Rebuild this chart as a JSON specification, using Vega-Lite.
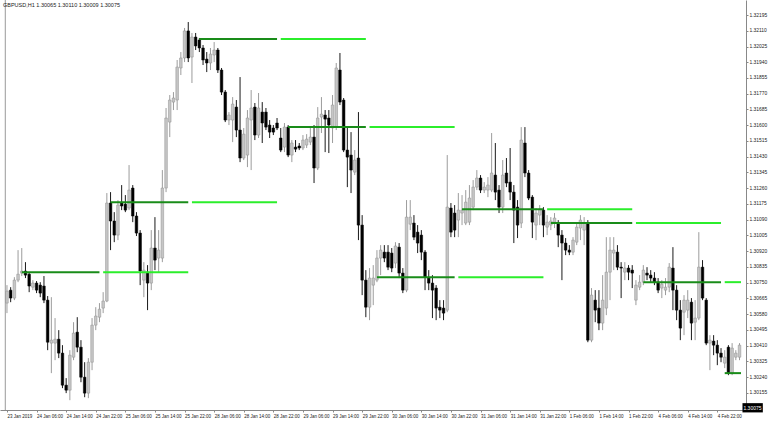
{
"$schema":"https://vega.github.io/schema/vega-lite/v6.json",
"width":746,"height":410,
"autosize":{"type":"none"},
"padding":{"left":0,"top":0,"right":22,"bottom":11},
"background":"white",
"config":{"view":{"stroke":null},"font":"Liberation Sans"},
"resolve":{"axis":{"x":"independent","y":"independent"}},
"title":{"text":"GBPUSD,H1  1.30065 1.30110 1.30009 1.30075","anchor":"start","frame":"group","offset":-9,"dx":3,"fontSize":5.5,"fontWeight":"normal","color":"#222","font":"Liberation Sans"},
"datasets":{
"candles":[
{"i":0,"o":1.30640,"h":1.30737,"l":1.30586,"c":1.30705},
{"i":1,"o":1.30710,"h":1.30726,"l":1.30645,"c":1.30667},
{"i":2,"o":1.30667,"h":1.30780,"l":1.30656,"c":1.30764},
{"i":3,"o":1.30764,"h":1.30926,"l":1.30753,"c":1.30796},
{"i":4,"o":1.30802,"h":1.30937,"l":1.30786,"c":1.30813},
{"i":5,"o":1.30813,"h":1.30861,"l":1.30775,"c":1.30791},
{"i":6,"o":1.30796,"h":1.30807,"l":1.30699,"c":1.30732},
{"i":7,"o":1.30726,"h":1.30764,"l":1.30710,"c":1.30748},
{"i":8,"o":1.30748,"h":1.30759,"l":1.30694,"c":1.30710},
{"i":9,"o":1.30737,"h":1.30753,"l":1.30672,"c":1.30694},
{"i":10,"o":1.30732,"h":1.30786,"l":1.30640,"c":1.30656},
{"i":11,"o":1.30656,"h":1.30678,"l":1.30386,"c":1.30429},
{"i":12,"o":1.30424,"h":1.30672,"l":1.30262,"c":1.30440},
{"i":13,"o":1.30424,"h":1.30559,"l":1.30332,"c":1.30445},
{"i":14,"o":1.30445,"h":1.30494,"l":1.30343,"c":1.30370},
{"i":15,"o":1.30370,"h":1.30413,"l":1.30181,"c":1.30197},
{"i":16,"o":1.30197,"h":1.30235,"l":1.30154,"c":1.30170},
{"i":17,"o":1.30170,"h":1.30386,"l":1.30116,"c":1.30359},
{"i":18,"o":1.30348,"h":1.30537,"l":1.30332,"c":1.30478},
{"i":19,"o":1.30483,"h":1.30564,"l":1.30375,"c":1.30402},
{"i":20,"o":1.30402,"h":1.30440,"l":1.30213,"c":1.30240},
{"i":21,"o":1.30240,"h":1.30321,"l":1.30132,"c":1.30154},
{"i":22,"o":1.30154,"h":1.30343,"l":1.30127,"c":1.30321},
{"i":23,"o":1.30321,"h":1.30559,"l":1.30278,"c":1.30521},
{"i":24,"o":1.30521,"h":1.30618,"l":1.30494,"c":1.30570},
{"i":25,"o":1.30564,"h":1.30640,"l":1.30537,"c":1.30607},
{"i":26,"o":1.30613,"h":1.30699,"l":1.30586,"c":1.30651},
{"i":27,"o":1.30651,"h":1.31234,"l":1.30645,"c":1.31180},
{"i":28,"o":1.31180,"h":1.31239,"l":1.30926,"c":1.31083},
{"i":29,"o":1.31083,"h":1.31131,"l":1.30969,"c":1.31007},
{"i":30,"o":1.31007,"h":1.31196,"l":1.30980,"c":1.31169},
{"i":31,"o":1.31180,"h":1.31277,"l":1.31142,"c":1.31164},
{"i":32,"o":1.31174,"h":1.31223,"l":1.31131,"c":1.31142},
{"i":33,"o":1.31153,"h":1.31385,"l":1.31142,"c":1.31250},
{"i":34,"o":1.31261,"h":1.31277,"l":1.31077,"c":1.31110},
{"i":35,"o":1.31110,"h":1.31131,"l":1.31002,"c":1.31018},
{"i":36,"o":1.31018,"h":1.31034,"l":1.30737,"c":1.30813},
{"i":37,"o":1.30764,"h":1.30861,"l":1.30672,"c":1.30818},
{"i":38,"o":1.30807,"h":1.30845,"l":1.30602,"c":1.30748},
{"i":39,"o":1.30748,"h":1.31034,"l":1.30710,"c":1.30937},
{"i":40,"o":1.30937,"h":1.31104,"l":1.30818,"c":1.30872},
{"i":41,"o":1.30883,"h":1.31034,"l":1.30807,"c":1.30926},
{"i":42,"o":1.30883,"h":1.31358,"l":1.30861,"c":1.31261},
{"i":43,"o":1.31261,"h":1.31693,"l":1.31239,"c":1.31639},
{"i":44,"o":1.31617,"h":1.31763,"l":1.31536,"c":1.31736},
{"i":45,"o":1.31725,"h":1.31779,"l":1.31682,"c":1.31747},
{"i":46,"o":1.31736,"h":1.31952,"l":1.31682,"c":1.31914},
{"i":47,"o":1.31909,"h":1.31995,"l":1.31871,"c":1.31963},
{"i":48,"o":1.31963,"h":1.32125,"l":1.31941,"c":1.32109},
{"i":49,"o":1.32109,"h":1.32157,"l":1.31941,"c":1.31963},
{"i":50,"o":1.31968,"h":1.32098,"l":1.31828,"c":1.32076},
{"i":51,"o":1.32076,"h":1.32098,"l":1.32006,"c":1.32028},
{"i":52,"o":1.32060,"h":1.32071,"l":1.31995,"c":1.32017},
{"i":53,"o":1.32017,"h":1.32033,"l":1.31925,"c":1.31952},
{"i":54,"o":1.31957,"h":1.31995,"l":1.31887,"c":1.31936},
{"i":55,"o":1.31936,"h":1.32017,"l":1.31898,"c":1.31984},
{"i":56,"o":1.31979,"h":1.32049,"l":1.31941,"c":1.32006},
{"i":57,"o":1.32006,"h":1.32017,"l":1.31882,"c":1.31898},
{"i":58,"o":1.31898,"h":1.31909,"l":1.31763,"c":1.31779},
{"i":59,"o":1.31779,"h":1.31790,"l":1.31617,"c":1.31628},
{"i":60,"o":1.31628,"h":1.31671,"l":1.31601,"c":1.31655},
{"i":61,"o":1.31628,"h":1.31752,"l":1.31509,"c":1.31714},
{"i":62,"o":1.31698,"h":1.31736,"l":1.31536,"c":1.31574},
{"i":63,"o":1.31574,"h":1.31860,"l":1.31401,"c":1.31423},
{"i":64,"o":1.31423,"h":1.31585,"l":1.31412,"c":1.31552},
{"i":65,"o":1.31439,"h":1.31682,"l":1.31374,"c":1.31639},
{"i":66,"o":1.31628,"h":1.31790,"l":1.31358,"c":1.31693},
{"i":67,"o":1.31698,"h":1.31720,"l":1.31520,"c":1.31547},
{"i":68,"o":1.31547,"h":1.31774,"l":1.31531,"c":1.31693},
{"i":69,"o":1.31671,"h":1.31725,"l":1.31504,"c":1.31612},
{"i":70,"o":1.31671,"h":1.31693,"l":1.31574,"c":1.31590},
{"i":71,"o":1.31601,"h":1.31628,"l":1.31531,"c":1.31563},
{"i":72,"o":1.31585,"h":1.31601,"l":1.31547,"c":1.31563},
{"i":73,"o":1.31612,"h":1.31639,"l":1.31574,"c":1.31585},
{"i":74,"o":1.31531,"h":1.31585,"l":1.31455,"c":1.31466},
{"i":75,"o":1.31482,"h":1.31612,"l":1.31455,"c":1.31590},
{"i":76,"o":1.31590,"h":1.31601,"l":1.31428,"c":1.31439},
{"i":77,"o":1.31439,"h":1.31520,"l":1.31401,"c":1.31504},
{"i":78,"o":1.31482,"h":1.31520,"l":1.31455,"c":1.31471},
{"i":79,"o":1.31488,"h":1.31504,"l":1.31466,"c":1.31477},
{"i":80,"o":1.31477,"h":1.31547,"l":1.31466,"c":1.31520},
{"i":81,"o":1.31493,"h":1.31552,"l":1.31477,"c":1.31525},
{"i":82,"o":1.31509,"h":1.31590,"l":1.31493,"c":1.31536},
{"i":83,"o":1.31536,"h":1.31601,"l":1.31288,"c":1.31369},
{"i":84,"o":1.31369,"h":1.31698,"l":1.31358,"c":1.31639},
{"i":85,"o":1.31644,"h":1.31752,"l":1.31558,"c":1.31660},
{"i":86,"o":1.31655,"h":1.31682,"l":1.31455,"c":1.31633},
{"i":87,"o":1.31639,"h":1.31682,"l":1.31450,"c":1.31601},
{"i":88,"o":1.31585,"h":1.31763,"l":1.31504,"c":1.31709},
{"i":89,"o":1.31590,"h":1.31936,"l":1.31574,"c":1.31909},
{"i":90,"o":1.31898,"h":1.31990,"l":1.31709,"c":1.31725},
{"i":91,"o":1.31736,"h":1.31747,"l":1.31455,"c":1.31466},
{"i":92,"o":1.31466,"h":1.31590,"l":1.31266,"c":1.31428},
{"i":93,"o":1.31439,"h":1.31563,"l":1.31234,"c":1.31358},
{"i":94,"o":1.31347,"h":1.31466,"l":1.31331,"c":1.31412},
{"i":95,"o":1.31423,"h":1.31671,"l":1.30980,"c":1.31061},
{"i":96,"o":1.31061,"h":1.31115,"l":1.30683,"c":1.30764},
{"i":97,"o":1.30764,"h":1.30818,"l":1.30564,"c":1.30618},
{"i":98,"o":1.30618,"h":1.30829,"l":1.30548,"c":1.30775},
{"i":99,"o":1.30737,"h":1.30845,"l":1.30629,"c":1.30775},
{"i":100,"o":1.30764,"h":1.30926,"l":1.30753,"c":1.30883},
{"i":101,"o":1.30883,"h":1.30953,"l":1.30791,"c":1.30926},
{"i":102,"o":1.30915,"h":1.30953,"l":1.30861,"c":1.30883},
{"i":103,"o":1.30915,"h":1.30953,"l":1.30818,"c":1.30834},
{"i":104,"o":1.30910,"h":1.30937,"l":1.30807,"c":1.30829},
{"i":105,"o":1.30856,"h":1.30969,"l":1.30829,"c":1.30948},
{"i":106,"o":1.30942,"h":1.30964,"l":1.30775,"c":1.30802},
{"i":107,"o":1.30802,"h":1.30829,"l":1.30694,"c":1.30710},
{"i":108,"o":1.30710,"h":1.31196,"l":1.30699,"c":1.31104},
{"i":109,"o":1.31066,"h":1.31196,"l":1.31034,"c":1.31104},
{"i":110,"o":1.31072,"h":1.31115,"l":1.30980,"c":1.30996},
{"i":111,"o":1.31023,"h":1.31061,"l":1.30910,"c":1.30964},
{"i":112,"o":1.31007,"h":1.31034,"l":1.30872,"c":1.30915},
{"i":113,"o":1.30915,"h":1.30926,"l":1.30710,"c":1.30780},
{"i":114,"o":1.30775,"h":1.30818,"l":1.30710,"c":1.30748},
{"i":115,"o":1.30748,"h":1.30791,"l":1.30559,"c":1.30710},
{"i":116,"o":1.30721,"h":1.30737,"l":1.30548,"c":1.30613},
{"i":117,"o":1.30618,"h":1.30656,"l":1.30559,"c":1.30602},
{"i":118,"o":1.30613,"h":1.30656,"l":1.30548,"c":1.30586},
{"i":119,"o":1.30602,"h":1.31439,"l":1.30591,"c":1.31158},
{"i":120,"o":1.31153,"h":1.31180,"l":1.30996,"c":1.31023},
{"i":121,"o":1.31126,"h":1.31169,"l":1.30996,"c":1.31034},
{"i":122,"o":1.31088,"h":1.31234,"l":1.30996,"c":1.31142},
{"i":123,"o":1.31126,"h":1.31223,"l":1.31061,"c":1.31142},
{"i":124,"o":1.31072,"h":1.31250,"l":1.31061,"c":1.31185},
{"i":125,"o":1.31077,"h":1.31277,"l":1.31061,"c":1.31207},
{"i":126,"o":1.31158,"h":1.31304,"l":1.31142,"c":1.31266},
{"i":127,"o":1.31266,"h":1.31358,"l":1.31250,"c":1.31315},
{"i":128,"o":1.31315,"h":1.31331,"l":1.31234,"c":1.31250},
{"i":129,"o":1.31250,"h":1.31293,"l":1.31234,"c":1.31266},
{"i":130,"o":1.31250,"h":1.31320,"l":1.31212,"c":1.31277},
{"i":131,"o":1.31250,"h":1.31558,"l":1.31239,"c":1.31342},
{"i":132,"o":1.31331,"h":1.31504,"l":1.31196,"c":1.31239},
{"i":133,"o":1.31250,"h":1.31277,"l":1.31126,"c":1.31158},
{"i":134,"o":1.31158,"h":1.31412,"l":1.31126,"c":1.31331},
{"i":135,"o":1.31342,"h":1.31423,"l":1.31266,"c":1.31288},
{"i":136,"o":1.31293,"h":1.31477,"l":1.31196,"c":1.31239},
{"i":137,"o":1.31239,"h":1.31277,"l":1.30964,"c":1.31142},
{"i":138,"o":1.31158,"h":1.31196,"l":1.30991,"c":1.31061},
{"i":139,"o":1.31072,"h":1.31590,"l":1.31045,"c":1.31520},
{"i":140,"o":1.31504,"h":1.31590,"l":1.31320,"c":1.31342},
{"i":141,"o":1.31342,"h":1.31358,"l":1.31196,"c":1.31207},
{"i":142,"o":1.31212,"h":1.31223,"l":1.30991,"c":1.31077},
{"i":143,"o":1.31061,"h":1.31153,"l":1.30980,"c":1.31126},
{"i":144,"o":1.31115,"h":1.31169,"l":1.31061,"c":1.31147},
{"i":145,"o":1.31142,"h":1.31158,"l":1.30996,"c":1.31061},
{"i":146,"o":1.31050,"h":1.31115,"l":1.31007,"c":1.31077},
{"i":147,"o":1.31061,"h":1.31104,"l":1.31034,"c":1.31083},
{"i":148,"o":1.31077,"h":1.31126,"l":1.31045,"c":1.31099},
{"i":149,"o":1.31072,"h":1.31088,"l":1.30942,"c":1.31007},
{"i":150,"o":1.31007,"h":1.31034,"l":1.30764,"c":1.30964},
{"i":151,"o":1.30964,"h":1.30991,"l":1.30899,"c":1.30926},
{"i":152,"o":1.30926,"h":1.30953,"l":1.30899,"c":1.30915},
{"i":153,"o":1.30915,"h":1.30996,"l":1.30899,"c":1.30980},
{"i":154,"o":1.30969,"h":1.31077,"l":1.30953,"c":1.31050},
{"i":155,"o":1.31045,"h":1.31115,"l":1.30980,"c":1.31088},
{"i":156,"o":1.31034,"h":1.31104,"l":1.30953,"c":1.31072},
{"i":157,"o":1.31072,"h":1.31088,"l":1.30429,"c":1.30440},
{"i":158,"o":1.30440,"h":1.30721,"l":1.30429,"c":1.30683},
{"i":159,"o":1.30656,"h":1.30710,"l":1.30537,"c":1.30602},
{"i":160,"o":1.30613,"h":1.30710,"l":1.30494,"c":1.30532},
{"i":161,"o":1.30532,"h":1.30791,"l":1.30494,"c":1.30656},
{"i":162,"o":1.30613,"h":1.30996,"l":1.30575,"c":1.30807},
{"i":163,"o":1.30807,"h":1.30996,"l":1.30656,"c":1.30926},
{"i":164,"o":1.30910,"h":1.30996,"l":1.30818,"c":1.30926},
{"i":165,"o":1.30915,"h":1.30953,"l":1.30818,"c":1.30834},
{"i":166,"o":1.30834,"h":1.30861,"l":1.30667,"c":1.30829},
{"i":167,"o":1.30807,"h":1.30861,"l":1.30764,"c":1.30829},
{"i":168,"o":1.30829,"h":1.30845,"l":1.30764,"c":1.30807},
{"i":169,"o":1.30818,"h":1.30845,"l":1.30721,"c":1.30802},
{"i":170,"o":1.30656,"h":1.30764,"l":1.30629,"c":1.30737},
{"i":171,"o":1.30726,"h":1.30791,"l":1.30710,"c":1.30753},
{"i":172,"o":1.30753,"h":1.30845,"l":1.30737,"c":1.30818},
{"i":173,"o":1.30802,"h":1.30834,"l":1.30764,"c":1.30791},
{"i":174,"o":1.30791,"h":1.30818,"l":1.30753,"c":1.30775},
{"i":175,"o":1.30775,"h":1.30807,"l":1.30737,"c":1.30753},
{"i":176,"o":1.30753,"h":1.30775,"l":1.30694,"c":1.30710},
{"i":177,"o":1.30721,"h":1.30764,"l":1.30667,"c":1.30742},
{"i":178,"o":1.30710,"h":1.30775,"l":1.30683,"c":1.30726},
{"i":179,"o":1.30726,"h":1.30856,"l":1.30699,"c":1.30834},
{"i":180,"o":1.30829,"h":1.30942,"l":1.30602,"c":1.30710},
{"i":181,"o":1.30710,"h":1.30737,"l":1.30548,"c":1.30602},
{"i":182,"o":1.30602,"h":1.30656,"l":1.30440,"c":1.30505},
{"i":183,"o":1.30591,"h":1.30683,"l":1.30467,"c":1.30656},
{"i":184,"o":1.30602,"h":1.30710,"l":1.30559,"c":1.30656},
{"i":185,"o":1.30645,"h":1.30667,"l":1.30440,"c":1.30532},
{"i":186,"o":1.30537,"h":1.30656,"l":1.30440,"c":1.30559},
{"i":187,"o":1.30559,"h":1.31023,"l":1.30548,"c":1.30834},
{"i":188,"o":1.30834,"h":1.30872,"l":1.30656,"c":1.30667},
{"i":189,"o":1.30656,"h":1.30667,"l":1.30413,"c":1.30424},
{"i":190,"o":1.30424,"h":1.30467,"l":1.30278,"c":1.30440},
{"i":191,"o":1.30435,"h":1.30467,"l":1.30359,"c":1.30413},
{"i":192,"o":1.30413,"h":1.30440,"l":1.30305,"c":1.30370},
{"i":193,"o":1.30370,"h":1.30397,"l":1.30321,"c":1.30348},
{"i":194,"o":1.30316,"h":1.30386,"l":1.30289,"c":1.30348},
{"i":195,"o":1.30402,"h":1.30413,"l":1.30251,"c":1.30262},
{"i":196,"o":1.30262,"h":1.30424,"l":1.30251,"c":1.30397},
{"i":197,"o":1.30348,"h":1.30386,"l":1.30332,"c":1.30370},
{"i":198,"o":1.30348,"h":1.30424,"l":1.30332,"c":1.30413}
],
"levels":[
{"s":4,"e":25,"v":1.30807,"kind":"dark"},{"s":26,"e":49,"v":1.30807,"kind":"lime"},
{"s":28,"e":49,"v":1.31185,"kind":"dark"},{"s":50,"e":73,"v":1.31185,"kind":"lime"},
{"s":52,"e":73,"v":1.32065,"kind":"dark"},{"s":74,"e":97,"v":1.32065,"kind":"lime"},
{"s":76,"e":97,"v":1.31590,"kind":"dark"},{"s":98,"e":121,"v":1.31590,"kind":"lime"},
{"s":100,"e":121,"v":1.30780,"kind":"dark"},{"s":122,"e":145,"v":1.30780,"kind":"lime"},
{"s":123,"e":145,"v":1.31147,"kind":"dark"},{"s":146,"e":169,"v":1.31147,"kind":"lime"},
{"s":147,"e":169,"v":1.31072,"kind":"dark"},{"s":170,"e":193,"v":1.31072,"kind":"lime"},
{"s":172,"e":193,"v":1.30753,"kind":"dark"},{"s":194,"e":198.4,"v":1.30753,"kind":"lime"},
{"s":194,"e":198.4,"v":1.30262,"kind":"dark"}
],
"last":[{"price":1.30075,"label":"1.30075"}]
},
"layer":[
{"data":{"name":"candles"},"mark":{"type":"rule","strokeWidth":1},
 "encoding":{
  "x":{"field":"i","type":"quantitative","scale":{"domain":[-0.53,198.4],"nice":false,"zero":false},
   "axis":{"orient":"bottom","values":[0,8,16,24,32,40,48,56,64,72,80,88,96,104,112,120,128,136,144,152,160,168,176,184,192],
    "labelExpr":"['23 Jan 2019','24 Jan 06:00','24 Jan 14:00','24 Jan 22:00','25 Jan 06:00','25 Jan 14:00','25 Jan 22:00','28 Jan 06:00','28 Jan 14:00','28 Jan 22:00','29 Jan 06:00','29 Jan 14:00','29 Jan 22:00','30 Jan 06:00','30 Jan 14:00','30 Jan 22:00','31 Jan 06:00','31 Jan 14:00','31 Jan 22:00','1 Feb 06:00','1 Feb 14:00','1 Feb 22:00','4 Feb 06:00','4 Feb 14:00','4 Feb 22:00'][floor(datum.value/8+0.5)]",
    "labelAlign":"left","labelBaseline":"top","labelFontSize":4.5,"labelColor":"#222","labelPadding":1.5,"labelDx":0.5,"labelFont":"Liberation Sans",
    "tickSize":2,"tickColor":"#888","domainColor":"#888","grid":false,"title":null,"labelOverlap":false,"labelFlush":false,"labelBound":false}},
  "y":{"field":"l","type":"quantitative","scale":{"domain":[1.30063,1.32276],"nice":false,"zero":false},
   "axis":{"orient":"right","values":[1.32195,1.32110,1.32025,1.31940,1.31855,1.31770,1.31685,1.31600,1.31515,1.31430,1.31345,1.31260,1.31175,1.31090,1.31005,1.30920,1.30835,1.30750,1.30665,1.30580,1.30495,1.30410,1.30325,1.30240,1.30155],
    "format":".5f","labelFontSize":4.9,"labelColor":"#222","labelPadding":1,"labelFont":"Liberation Sans","tickSize":2,"tickColor":"#888","domainColor":"#888","grid":false,"title":null,"labelOverlap":false,"labelFlush":false,"labelBound":false}},
  "y2":{"field":"h"},
  "color":{"condition":{"test":"datum.c < datum.o","value":"#1a1a1a"},"value":"#9c9c9c"}
 }},
{"data":{"name":"candles"},"mark":{"type":"bar","size":2.6,"strokeWidth":0.5},
 "encoding":{
  "x":{"field":"i","type":"quantitative","axis":null},
  "y":{"field":"o","type":"quantitative","axis":null},
  "y2":{"field":"c"},
  "fill":{"condition":{"test":"datum.c < datum.o","value":"#000000"},"value":"#c6c6c6"},
  "stroke":{"condition":{"test":"datum.c < datum.o","value":"#000000"},"value":"#8e8e8e"}
 }},
{"data":{"name":"levels"},"mark":{"type":"rule","strokeWidth":2},
 "encoding":{
  "x":{"field":"s","type":"quantitative","axis":null},
  "x2":{"field":"e"},
  "y":{"field":"v","type":"quantitative","axis":null},
  "color":{"field":"kind","type":"nominal","scale":{"domain":["dark","lime"],"range":["#198c19","#2bee2b"]},"legend":null}
 }},
{"data":{"name":"last"},"mark":{"type":"rule","color":"#999999","strokeWidth":1},
 "encoding":{"x":{"datum":-0.45,"type":"quantitative","axis":null}}},
{"data":{"name":"last"},"mark":{"type":"rect","color":"#000000"},
 "encoding":{"x":{"datum":198.8,"type":"quantitative","axis":null},"x2":{"datum":204.3},"y":{"datum":1.30050,"type":"quantitative","axis":null},"y2":{"datum":1.30100}}},
{"data":{"name":"last"},"mark":{"type":"text","color":"#ffffff","fontSize":5,"align":"center","baseline":"middle","font":"Liberation Sans"},
 "encoding":{"x":{"datum":201.5,"type":"quantitative","axis":null},"y":{"field":"price","type":"quantitative","axis":null},"text":{"field":"label"}}}
]
}
